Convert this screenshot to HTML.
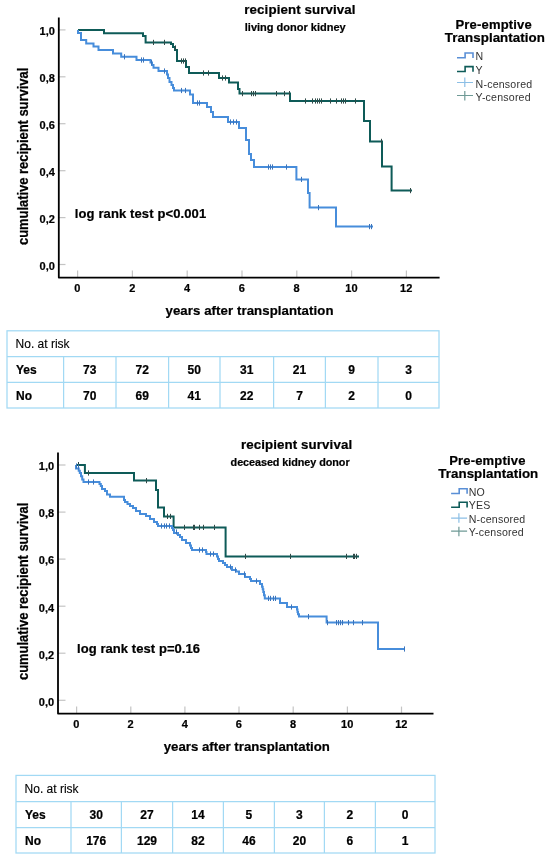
<!DOCTYPE html>
<html><head><meta charset="utf-8"><style>
html,body{margin:0;padding:0;background:#fff;}
svg{display:block;font-family:'Liberation Sans', Arial, sans-serif;filter:blur(0.35px);}
</style></head><body>
<svg width="550" height="860" viewBox="0 0 550 860">
<rect width="550" height="860" fill="#fff"/>
<text x="244.3" y="14.3" font-size="13.3" font-weight="bold" text-anchor="start" fill="#000" letter-spacing="0.11" stroke="#000" stroke-width="0.22" >recipient survival</text>
<text x="244.8" y="31" font-size="11" font-weight="bold" text-anchor="start" fill="#000" stroke="#000" stroke-width="0.22" >living donor kidney</text>
<text x="493.7" y="29" font-size="13" font-weight="bold" text-anchor="middle" fill="#000" letter-spacing="0.18" stroke="#000" stroke-width="0.22" >Pre-emptive</text>
<text x="494.9" y="42" font-size="13.3" font-weight="bold" text-anchor="middle" fill="#000" letter-spacing="0.07" stroke="#000" stroke-width="0.22" >Transplantation</text>
<path d="M457,57.8H465.1V53H473V58" stroke="#5a8fd6" stroke-width="1.6" fill="none"/>
<path d="M457,71.5H465.1V66.6H473V71.7" stroke="#0e5b58" stroke-width="1.6" fill="none"/>
<path d="M457,82.5H473M464.8,77.5V87" stroke="#8cbfe6" stroke-width="1.2" fill="none"/>
<path d="M457,95.5H473M464.8,91V100.5" stroke="#6f9a96" stroke-width="1.2" fill="none"/>
<text x="475.6" y="60" font-size="10.6" font-weight="normal" text-anchor="start" fill="#333" letter-spacing="0.2" >N</text>
<text x="475.6" y="73.5" font-size="10.6" font-weight="normal" text-anchor="start" fill="#333" letter-spacing="0.2" >Y</text>
<text x="475.6" y="87.5" font-size="10.6" font-weight="normal" text-anchor="start" fill="#333" letter-spacing="0.2" >N-censored</text>
<text x="475.6" y="100.5" font-size="10.6" font-weight="normal" text-anchor="start" fill="#333" letter-spacing="0.2" >Y-censored</text>
<text x="0" y="0" font-size="13" font-weight="bold" text-anchor="middle" stroke="#000" stroke-width="0.22" letter-spacing="-0.035" transform="translate(28,156.4) rotate(-90) scale(1,1.1)">cumulative recipient survival</text>
<path d="M58.8,29.9H65.5" stroke="#c4c4c4" stroke-width="1.2" fill="none"/>
<text x="54.9" y="35.2" font-size="11" font-weight="bold" text-anchor="end" fill="#000" stroke="#000" stroke-width="0.22" >1,0</text>
<path d="M58.8,76.8H65.5" stroke="#c4c4c4" stroke-width="1.2" fill="none"/>
<text x="54.9" y="82.1" font-size="11" font-weight="bold" text-anchor="end" fill="#000" stroke="#000" stroke-width="0.22" >0,8</text>
<path d="M58.8,123.7H65.5" stroke="#c4c4c4" stroke-width="1.2" fill="none"/>
<text x="54.9" y="129.0" font-size="11" font-weight="bold" text-anchor="end" fill="#000" stroke="#000" stroke-width="0.22" >0,6</text>
<path d="M58.8,170.7H65.5" stroke="#c4c4c4" stroke-width="1.2" fill="none"/>
<text x="54.9" y="176.0" font-size="11" font-weight="bold" text-anchor="end" fill="#000" stroke="#000" stroke-width="0.22" >0,4</text>
<path d="M58.8,217.6H65.5" stroke="#c4c4c4" stroke-width="1.2" fill="none"/>
<text x="54.9" y="222.9" font-size="11" font-weight="bold" text-anchor="end" fill="#000" stroke="#000" stroke-width="0.22" >0,2</text>
<path d="M58.8,264.5H65.5" stroke="#c4c4c4" stroke-width="1.2" fill="none"/>
<text x="54.9" y="269.8" font-size="11" font-weight="bold" text-anchor="end" fill="#000" stroke="#000" stroke-width="0.22" >0,0</text>
<path d="M77.6,270.6V277.1" stroke="#c4c4c4" stroke-width="1.2" fill="none"/>
<text x="77.4" y="292.0" font-size="11" font-weight="bold" text-anchor="middle" fill="#000" stroke="#000" stroke-width="0.22" >0</text>
<path d="M132.4,270.6V277.1" stroke="#c4c4c4" stroke-width="1.2" fill="none"/>
<text x="132.2" y="292.0" font-size="11" font-weight="bold" text-anchor="middle" fill="#000" stroke="#000" stroke-width="0.22" >2</text>
<path d="M187.2,270.6V277.1" stroke="#c4c4c4" stroke-width="1.2" fill="none"/>
<text x="187.0" y="292.0" font-size="11" font-weight="bold" text-anchor="middle" fill="#000" stroke="#000" stroke-width="0.22" >4</text>
<path d="M242.0,270.6V277.1" stroke="#c4c4c4" stroke-width="1.2" fill="none"/>
<text x="241.8" y="292.0" font-size="11" font-weight="bold" text-anchor="middle" fill="#000" stroke="#000" stroke-width="0.22" >6</text>
<path d="M296.8,270.6V277.1" stroke="#c4c4c4" stroke-width="1.2" fill="none"/>
<text x="296.6" y="292.0" font-size="11" font-weight="bold" text-anchor="middle" fill="#000" stroke="#000" stroke-width="0.22" >8</text>
<path d="M351.6,270.6V277.1" stroke="#c4c4c4" stroke-width="1.2" fill="none"/>
<text x="351.4" y="292.0" font-size="11" font-weight="bold" text-anchor="middle" fill="#000" stroke="#000" stroke-width="0.22" >10</text>
<path d="M406.4,270.6V277.1" stroke="#c4c4c4" stroke-width="1.2" fill="none"/>
<text x="406.2" y="292.0" font-size="11" font-weight="bold" text-anchor="middle" fill="#000" stroke="#000" stroke-width="0.22" >12</text>
<path d="M58.8,17.6V277.6H439.6" stroke="#000" stroke-width="1.8" fill="none" stroke-linejoin="round"/>
<text x="249.5" y="315.4" font-size="13.2" font-weight="bold" text-anchor="middle" fill="#000" letter-spacing="0.09" stroke="#000" stroke-width="0.22" >years after transplantation</text>
<text x="74.8" y="218.4" font-size="13" font-weight="bold" text-anchor="start" fill="#000" letter-spacing="0.12" stroke="#000" stroke-width="0.22" >log rank test p&lt;0.001</text>
<path d="M78,30H104V33.2H143V36H145.6V42.4H171V44H173V47H175V50H177V61H186V67H189V73H219V78H229V82.4H238V89H239.5V93.6H290V101H364V121H370V141.4H382V166.4H391.6V190.6H412" stroke="#0e5b58" stroke-width="2" fill="none"/>
<path d="M153.5,39.8V45.0M164.5,39.8V45.0M175.5,45.4V50.6M181.5,58.4V63.6M183.5,58.4V63.6M185.5,58.4V63.6M203.5,70.4V75.6M208.5,70.4V75.6M222.5,75.4V80.6M225.5,75.4V80.6M242.5,91.0V96.2M251.5,91.0V96.2M253.5,91.0V96.2M255.5,91.0V96.2M276.5,91.0V96.2M284.5,91.0V96.2M289.5,91.0V96.2M305.5,98.4V103.6M312.5,98.4V103.6M315.5,98.4V103.6M317.5,98.4V103.6M319.5,98.4V103.6M321.5,98.4V103.6M330.5,98.4V103.6M336.5,98.4V103.6M341.5,98.4V103.6M343.5,98.4V103.6M345.5,98.4V103.6M355.5,98.4V103.6M381.5,138.8V144.0M410.5,188.0V193.2" stroke="#2f4a48" stroke-width="1" fill="none"/>
<path d="M78,30V33H81V40H86.2V43.5H93.5V46.5H98.5V50H113V53.5H121.2V56.8H136.5V60H150.5V62.5H152V65H153.5V67.8H158.5V71H167V74.5H168V78H169.5V82H171.5V85H173V88H174V90.5H190V94.4H193V103H207V107H211V112H213V117H228V122H239V128H246V140H249V154H251V160H254V167H296.4V179.4H308V193H309.6V207.6H336V226.6H373" stroke="#478ddb" stroke-width="2" fill="none"/>
<path d="M124.5,54.2V59.4M141.5,57.4V62.6M143.5,57.4V62.6M151.5,59.9V65.1M164.5,68.4V73.6M181.5,87.9V93.1M185.5,87.9V93.1M197.5,100.4V105.6M199.5,100.4V105.6M230.5,119.4V124.6M233.5,119.4V124.6M236.5,119.4V124.6M268.5,164.4V169.6M270.5,164.4V169.6M272.5,164.4V169.6M286.5,164.4V169.6M301.5,176.8V182.0M318.5,205.0V210.2M369.5,224.0V229.2M371.5,224.0V229.2" stroke="#3a74bc" stroke-width="1" fill="none"/>
<text x="241" y="449.3" font-size="13.3" font-weight="bold" text-anchor="start" fill="#000" letter-spacing="0.1" stroke="#000" stroke-width="0.22" >recipient survival</text>
<text x="230.6" y="466" font-size="10.8" font-weight="bold" text-anchor="start" fill="#000" letter-spacing="-0.05" stroke="#000" stroke-width="0.22" >deceased kidney donor</text>
<text x="487.4" y="464.7" font-size="13" font-weight="bold" text-anchor="middle" fill="#000" letter-spacing="0.18" stroke="#000" stroke-width="0.22" >Pre-emptive</text>
<text x="488.3" y="477.7" font-size="13.3" font-weight="bold" text-anchor="middle" fill="#000" letter-spacing="0.07" stroke="#000" stroke-width="0.22" >Transplantation</text>
<path d="M451.1,493.5H459.20000000000005V488.7H467.1V493.7" stroke="#5a8fd6" stroke-width="1.6" fill="none"/>
<path d="M451.1,507.2H459.20000000000005V502.29999999999995H467.1V507.4" stroke="#0e5b58" stroke-width="1.6" fill="none"/>
<path d="M451.1,518.2H467.1M458.90000000000003,513.2V522.7" stroke="#8cbfe6" stroke-width="1.2" fill="none"/>
<path d="M451.1,531.2H467.1M458.90000000000003,526.7V536.2" stroke="#6f9a96" stroke-width="1.2" fill="none"/>
<text x="468.70000000000005" y="495.7" font-size="10.6" font-weight="normal" text-anchor="start" fill="#333" letter-spacing="0.2" >NO</text>
<text x="468.70000000000005" y="509.2" font-size="10.6" font-weight="normal" text-anchor="start" fill="#333" letter-spacing="0.2" >YES</text>
<text x="468.70000000000005" y="523.2" font-size="10.6" font-weight="normal" text-anchor="start" fill="#333" letter-spacing="0.2" >N-censored</text>
<text x="468.70000000000005" y="536.2" font-size="10.6" font-weight="normal" text-anchor="start" fill="#333" letter-spacing="0.2" >Y-censored</text>
<text x="0" y="0" font-size="13" font-weight="bold" text-anchor="middle" stroke="#000" stroke-width="0.22" letter-spacing="-0.035" transform="translate(28,591.4) rotate(-90) scale(1,1.1)">cumulative recipient survival</text>
<path d="M58,465.0H65.5" stroke="#c4c4c4" stroke-width="1.2" fill="none"/>
<text x="54.1" y="470.3" font-size="11" font-weight="bold" text-anchor="end" fill="#000" stroke="#000" stroke-width="0.22" >1,0</text>
<path d="M58,512.1H65.5" stroke="#c4c4c4" stroke-width="1.2" fill="none"/>
<text x="54.1" y="517.4" font-size="11" font-weight="bold" text-anchor="end" fill="#000" stroke="#000" stroke-width="0.22" >0,8</text>
<path d="M58,559.1H65.5" stroke="#c4c4c4" stroke-width="1.2" fill="none"/>
<text x="54.1" y="564.4" font-size="11" font-weight="bold" text-anchor="end" fill="#000" stroke="#000" stroke-width="0.22" >0,6</text>
<path d="M58,606.2H65.5" stroke="#c4c4c4" stroke-width="1.2" fill="none"/>
<text x="54.1" y="611.5" font-size="11" font-weight="bold" text-anchor="end" fill="#000" stroke="#000" stroke-width="0.22" >0,4</text>
<path d="M58,653.2H65.5" stroke="#c4c4c4" stroke-width="1.2" fill="none"/>
<text x="54.1" y="658.5" font-size="11" font-weight="bold" text-anchor="end" fill="#000" stroke="#000" stroke-width="0.22" >0,2</text>
<path d="M58,700.3H65.5" stroke="#c4c4c4" stroke-width="1.2" fill="none"/>
<text x="54.1" y="705.6" font-size="11" font-weight="bold" text-anchor="end" fill="#000" stroke="#000" stroke-width="0.22" >0,0</text>
<path d="M76.6,706.6V713.1" stroke="#c4c4c4" stroke-width="1.2" fill="none"/>
<text x="76.4" y="728.0" font-size="11" font-weight="bold" text-anchor="middle" fill="#000" stroke="#000" stroke-width="0.22" >0</text>
<path d="M130.8,706.6V713.1" stroke="#c4c4c4" stroke-width="1.2" fill="none"/>
<text x="130.6" y="728.0" font-size="11" font-weight="bold" text-anchor="middle" fill="#000" stroke="#000" stroke-width="0.22" >2</text>
<path d="M184.9,706.6V713.1" stroke="#c4c4c4" stroke-width="1.2" fill="none"/>
<text x="184.7" y="728.0" font-size="11" font-weight="bold" text-anchor="middle" fill="#000" stroke="#000" stroke-width="0.22" >4</text>
<path d="M239.0,706.6V713.1" stroke="#c4c4c4" stroke-width="1.2" fill="none"/>
<text x="238.8" y="728.0" font-size="11" font-weight="bold" text-anchor="middle" fill="#000" stroke="#000" stroke-width="0.22" >6</text>
<path d="M293.2,706.6V713.1" stroke="#c4c4c4" stroke-width="1.2" fill="none"/>
<text x="293.0" y="728.0" font-size="11" font-weight="bold" text-anchor="middle" fill="#000" stroke="#000" stroke-width="0.22" >8</text>
<path d="M347.4,706.6V713.1" stroke="#c4c4c4" stroke-width="1.2" fill="none"/>
<text x="347.2" y="728.0" font-size="11" font-weight="bold" text-anchor="middle" fill="#000" stroke="#000" stroke-width="0.22" >10</text>
<path d="M401.5,706.6V713.1" stroke="#c4c4c4" stroke-width="1.2" fill="none"/>
<text x="401.3" y="728.0" font-size="11" font-weight="bold" text-anchor="middle" fill="#000" stroke="#000" stroke-width="0.22" >12</text>
<path d="M58,452.6V713.6H433.5" stroke="#000" stroke-width="1.8" fill="none" stroke-linejoin="round"/>
<text x="246.8" y="751.4" font-size="13.2" font-weight="bold" text-anchor="middle" fill="#000" letter-spacing="0.02" stroke="#000" stroke-width="0.22" >years after transplantation</text>
<text x="77" y="653.4" font-size="13" font-weight="bold" text-anchor="start" fill="#000" letter-spacing="0.07" stroke="#000" stroke-width="0.22" >log rank test p=0.16</text>
<path d="M76.5,465H84.9V473H134V480.6H156V490H158V507.4H164V516.4H173.6V527.4H225.6V556.4H359" stroke="#0e5b58" stroke-width="2" fill="none"/>
<path d="M78.5,462.0V467.2M88.5,470.4V475.6M146.5,478.0V483.2M167.5,513.8V519.0M170.5,513.8V519.0M184.5,524.8V530.0M193.5,524.8V530.0M194.5,524.8V530.0M199.5,524.8V530.0M203.5,524.8V530.0M214.5,524.8V530.0M245.5,553.8V559.0M290.5,553.8V559.0M346.5,553.8V559.0M353.5,553.8V559.0M354.5,553.8V559.0M356.5,553.8V559.0" stroke="#2f4a48" stroke-width="1" fill="none"/>
<path d="M76.0,465.0V468.5H78.7V470.8H79.8V473.0H81.0V476.2H82.2V479.5H83.5V482.0H86.5H99.5V484.0H100.8V486.0H102.0V489.0H105.0V491.0H107.0V494.5H110.0V496.8H113.0H124.0V500.0H125.0V502.0H127.5V504.0H130.0V506.0H133.0V508.0H136.0V511.0H140.0V514.0H146.0V516.0H150.0V519.0H154.0V522.0H157.0V524.0H158.0V526.0H159.0H172.0V528.0H173.0V530.0H174.0V533.0H178.0V535.0H180.0V537.0H182.0V540.0H186.0V543.0H190.0V545.5H191.0V548.0H192.0V550.0H195.0H206.0V552.0H206.5V554.0H207.0H217.0V556.5H218.0V559.0H219.0V561.0H223.0V563.0H225.0V565.0H227.0V567.0H232.0V570.0H236.0V571.6H239.0V574.0H245.0V577.0H250.0V579.0H251.0V581.0H252.0H260.0V584.0H262.0V586.7H262.7V589.3H263.3V592.0H264.0V595.2H264.8V598.4H265.6H280.0V603.0H287.0V607.0H297.0V609.5H297.5V612.0H298.0V614.3H299.0V616.6H300.0H326.6V622.6H378.0V649.0H405.0" stroke="#478ddb" stroke-width="2" fill="none"/>
<path d="M76.5,463.4V468.6M78.5,464.4V469.6M88.5,479.4V484.6M93.5,479.4V484.6M161.5,523.4V528.6M164.5,523.4V528.6M166.5,523.4V528.6M169.5,523.4V528.6M176.5,529.4V534.6M199.5,547.4V552.6M202.5,547.4V552.6M210.5,551.4V556.6M213.5,551.4V556.6M230.5,564.4V569.6M235.5,567.4V572.6M244.5,571.4V576.6M256.5,578.4V583.6M268.5,595.8V601.0M270.5,595.8V601.0M273.5,595.8V601.0M275.5,595.8V601.0M291.5,604.4V609.6M308.5,614.0V619.2M327.5,620.0V625.2M336.5,620.0V625.2M338.5,620.0V625.2M340.5,620.0V625.2M342.5,620.0V625.2M348.5,620.0V625.2M353.5,620.0V625.2M362.5,620.0V625.2M404.5,646.4V651.6" stroke="#3a74bc" stroke-width="1" fill="none"/>
<rect x="7" y="330.8" width="432" height="77.19999999999999" fill="none" stroke="#a2d9f4" stroke-width="1.25"/>
<path d="M7,356.6H439" stroke="#a2d9f4" stroke-width="1.25"/>
<path d="M7,382.4H439" stroke="#a2d9f4" stroke-width="1.25"/>
<path d="M63.6,356.6V408" stroke="#a2d9f4" stroke-width="1.25"/>
<path d="M116,356.6V408" stroke="#a2d9f4" stroke-width="1.25"/>
<path d="M168.6,356.6V408" stroke="#a2d9f4" stroke-width="1.25"/>
<path d="M220,356.6V408" stroke="#a2d9f4" stroke-width="1.25"/>
<path d="M273.6,356.6V408" stroke="#a2d9f4" stroke-width="1.25"/>
<path d="M325.4,356.6V408" stroke="#a2d9f4" stroke-width="1.25"/>
<path d="M378,356.6V408" stroke="#a2d9f4" stroke-width="1.25"/>
<text x="15.6" y="348.3" font-size="12" font-weight="normal" text-anchor="start" fill="#000" stroke="#000" stroke-width="0.12">No. at risk</text>
<text x="16.0" y="374.2" font-size="12" font-weight="bold" text-anchor="start" fill="#000" stroke="#000" stroke-width="0.22" >Yes</text>
<text x="89.8" y="374.2" font-size="12" font-weight="bold" text-anchor="middle" fill="#000" stroke="#000" stroke-width="0.22" >73</text>
<text x="142.3" y="374.2" font-size="12" font-weight="bold" text-anchor="middle" fill="#000" stroke="#000" stroke-width="0.22" >72</text>
<text x="194.3" y="374.2" font-size="12" font-weight="bold" text-anchor="middle" fill="#000" stroke="#000" stroke-width="0.22" >50</text>
<text x="246.8" y="374.2" font-size="12" font-weight="bold" text-anchor="middle" fill="#000" stroke="#000" stroke-width="0.22" >31</text>
<text x="299.5" y="374.2" font-size="12" font-weight="bold" text-anchor="middle" fill="#000" stroke="#000" stroke-width="0.22" >21</text>
<text x="351.7" y="374.2" font-size="12" font-weight="bold" text-anchor="middle" fill="#000" stroke="#000" stroke-width="0.22" >9</text>
<text x="408.5" y="374.2" font-size="12" font-weight="bold" text-anchor="middle" fill="#000" stroke="#000" stroke-width="0.22" >3</text>
<text x="16.0" y="400.0" font-size="12" font-weight="bold" text-anchor="start" fill="#000" stroke="#000" stroke-width="0.22" >No</text>
<text x="89.8" y="400.0" font-size="12" font-weight="bold" text-anchor="middle" fill="#000" stroke="#000" stroke-width="0.22" >70</text>
<text x="142.3" y="400.0" font-size="12" font-weight="bold" text-anchor="middle" fill="#000" stroke="#000" stroke-width="0.22" >69</text>
<text x="194.3" y="400.0" font-size="12" font-weight="bold" text-anchor="middle" fill="#000" stroke="#000" stroke-width="0.22" >41</text>
<text x="246.8" y="400.0" font-size="12" font-weight="bold" text-anchor="middle" fill="#000" stroke="#000" stroke-width="0.22" >22</text>
<text x="299.5" y="400.0" font-size="12" font-weight="bold" text-anchor="middle" fill="#000" stroke="#000" stroke-width="0.22" >7</text>
<text x="351.7" y="400.0" font-size="12" font-weight="bold" text-anchor="middle" fill="#000" stroke="#000" stroke-width="0.22" >2</text>
<text x="408.5" y="400.0" font-size="12" font-weight="bold" text-anchor="middle" fill="#000" stroke="#000" stroke-width="0.22" >0</text>
<rect x="16" y="775.4" width="419" height="77.60000000000002" fill="none" stroke="#a2d9f4" stroke-width="1.25"/>
<path d="M16,801.6H435" stroke="#a2d9f4" stroke-width="1.25"/>
<path d="M16,827.6H435" stroke="#a2d9f4" stroke-width="1.25"/>
<path d="M71,801.6V853" stroke="#a2d9f4" stroke-width="1.25"/>
<path d="M121.4,801.6V853" stroke="#a2d9f4" stroke-width="1.25"/>
<path d="M172.6,801.6V853" stroke="#a2d9f4" stroke-width="1.25"/>
<path d="M223.4,801.6V853" stroke="#a2d9f4" stroke-width="1.25"/>
<path d="M274.4,801.6V853" stroke="#a2d9f4" stroke-width="1.25"/>
<path d="M324.4,801.6V853" stroke="#a2d9f4" stroke-width="1.25"/>
<path d="M375.4,801.6V853" stroke="#a2d9f4" stroke-width="1.25"/>
<text x="24.6" y="792.9" font-size="12" font-weight="normal" text-anchor="start" fill="#000" stroke="#000" stroke-width="0.12">No. at risk</text>
<text x="25.0" y="819.2" font-size="12" font-weight="bold" text-anchor="start" fill="#000" stroke="#000" stroke-width="0.22" >Yes</text>
<text x="96.2" y="819.2" font-size="12" font-weight="bold" text-anchor="middle" fill="#000" stroke="#000" stroke-width="0.22" >30</text>
<text x="147.0" y="819.2" font-size="12" font-weight="bold" text-anchor="middle" fill="#000" stroke="#000" stroke-width="0.22" >27</text>
<text x="198.0" y="819.2" font-size="12" font-weight="bold" text-anchor="middle" fill="#000" stroke="#000" stroke-width="0.22" >14</text>
<text x="248.9" y="819.2" font-size="12" font-weight="bold" text-anchor="middle" fill="#000" stroke="#000" stroke-width="0.22" >5</text>
<text x="299.4" y="819.2" font-size="12" font-weight="bold" text-anchor="middle" fill="#000" stroke="#000" stroke-width="0.22" >3</text>
<text x="349.9" y="819.2" font-size="12" font-weight="bold" text-anchor="middle" fill="#000" stroke="#000" stroke-width="0.22" >2</text>
<text x="405.2" y="819.2" font-size="12" font-weight="bold" text-anchor="middle" fill="#000" stroke="#000" stroke-width="0.22" >0</text>
<text x="25.0" y="845.2" font-size="12" font-weight="bold" text-anchor="start" fill="#000" stroke="#000" stroke-width="0.22" >No</text>
<text x="96.2" y="845.2" font-size="12" font-weight="bold" text-anchor="middle" fill="#000" stroke="#000" stroke-width="0.22" >176</text>
<text x="147.0" y="845.2" font-size="12" font-weight="bold" text-anchor="middle" fill="#000" stroke="#000" stroke-width="0.22" >129</text>
<text x="198.0" y="845.2" font-size="12" font-weight="bold" text-anchor="middle" fill="#000" stroke="#000" stroke-width="0.22" >82</text>
<text x="248.9" y="845.2" font-size="12" font-weight="bold" text-anchor="middle" fill="#000" stroke="#000" stroke-width="0.22" >46</text>
<text x="299.4" y="845.2" font-size="12" font-weight="bold" text-anchor="middle" fill="#000" stroke="#000" stroke-width="0.22" >20</text>
<text x="349.9" y="845.2" font-size="12" font-weight="bold" text-anchor="middle" fill="#000" stroke="#000" stroke-width="0.22" >6</text>
<text x="405.2" y="845.2" font-size="12" font-weight="bold" text-anchor="middle" fill="#000" stroke="#000" stroke-width="0.22" >1</text>
</svg>
</body></html>
